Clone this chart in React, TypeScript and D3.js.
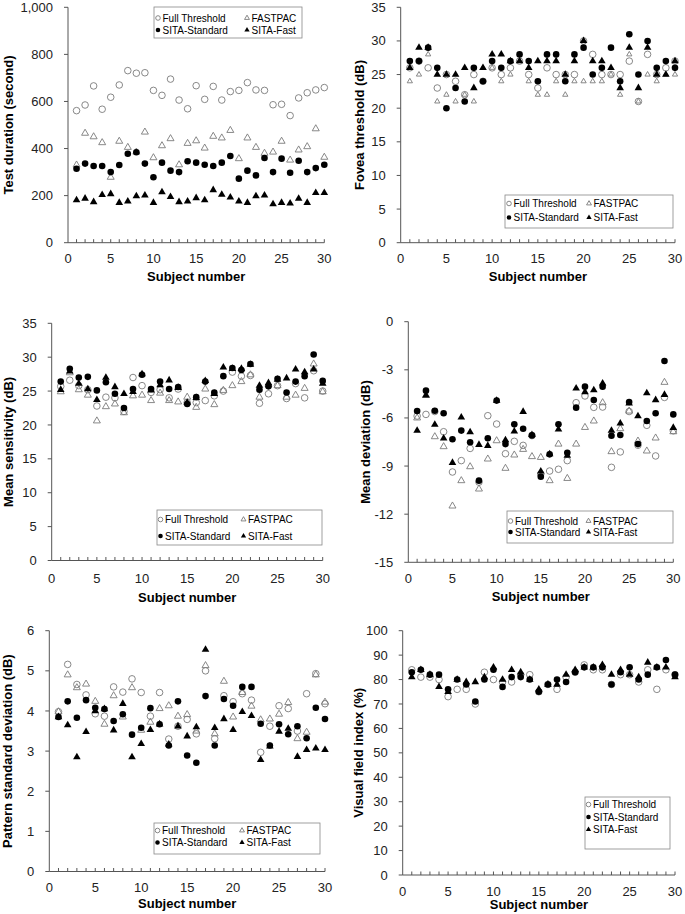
import * as d3 from 'd3';

// subjects and axis ticks
const subjects = [1, 2, 3, 4, 5, 6, 7, 8, 9, 10, 11, 12, 13, 14, 15, 16, 17, 18, 19, 20, 21, 22, 23, 24, 25, 26, 27, 28, 29, 30];
const xTickLabels = [0, 5, 10, 15, 20, 25, 30];
const durationTicks = [0, 200, 400, 600, 800, 1000];
const dbTicks = [0, 5, 10, 15, 20, 25, 30, 35];
const mdTicks = [-15, -12, -9, -6, -3, 0];
const psdTicks = [0, 1, 2, 3, 4, 5, 6];
const vfiTicks = [0, 10, 20, 30, 40, 50, 60, 70, 80, 90, 100];

// test duration (second)
const durFT = [561, 585, 666, 567, 618, 670, 731, 720, 722, 647, 626, 695, 606, 569, 667, 609, 664, 606, 642, 647, 680, 649, 647, 586, 588, 540, 615, 637, 649, 659];
const durFP = [330, 465, 450, 425, 278, 431, 405, 385, 470, 361, 412, 442, 331, 422, 433, 402, 452, 445, 477, 357, 445, 405, 380, 385, 431, 351, 394, 408, 484, 363];
const durSS = [314, 336, 326, 326, 300, 330, 378, 384, 336, 278, 340, 306, 300, 346, 340, 331, 326, 340, 368, 272, 306, 286, 360, 300, 357, 297, 348, 300, 317, 331];
const durSF = [181, 188, 173, 203, 207, 170, 176, 198, 201, 170, 215, 195, 173, 176, 190, 181, 224, 204, 193, 176, 170, 198, 201, 164, 170, 167, 187, 170, 212, 212];

// fovea threshold (dB)
const fovFT = [26, 27, 26, 23, 25, 24, 22, 25, 24, 26, 25, 26, 27, 25, 23, 26, 25, 25, 25, 30, 28, 25, 25, 25, 27, 21, 28, 25, 26, 27];
const fovFP = [24, 25, 28, 21, 22, 21, 22, 21, 26, 26, 24, 25, 27, 24, 22, 22, 24, 22, 24, 24, 24, 24, 25, 22, 28, 21, 25, 24, 25, 25];
const fovSS = [27, 27, 29, 26, 20, 23, 21, 26, 24, 27, 26, 27, 28, 27, 24, 28, 28, 24, 28, 29, 25, 26, 29, 24, 31, 25, 30, 26, 27, 26];
const fovSF = [26, 29, 29, 25, 25, 25, 26, 23, 26, 28, 28, 27, 27, 26, 27, 27, 27, 25, 27, 30, 27, 27, 26, 23, 29, 23, 29, 25, 25, 27];

// mean sensitivity (dB)
const msFT = [25.7, 26.6, 25.8, 25.2, 22.8, 24.1, 24.0, 22.0, 27.0, 25.8, 24.8, 25.2, 24.0, 25.3, 23.3, 23.3, 23.6, 24.3, 25.0, 27.8, 27.2, 27.3, 23.2, 24.6, 25.8, 23.9, 26.1, 24.0, 28.0, 25.0];
const msFP = [24.9, 27.7, 25.2, 24.4, 20.6, 22.7, 23.1, 21.8, 24.3, 24.4, 23.6, 24.7, 23.6, 23.4, 24.1, 22.6, 25.3, 23.0, 25.1, 25.8, 26.4, 27.4, 24.1, 25.9, 25.8, 24.1, 24.4, 25.4, 29.0, 24.9];
const msSS = [26.4, 28.3, 27.0, 27.1, 25.1, 26.3, 24.6, 22.5, 25.3, 27.4, 25.3, 26.4, 25.3, 25.6, 23.1, 24.1, 26.4, 24.8, 27.2, 28.4, 28.1, 29.0, 25.2, 25.7, 26.8, 24.8, 26.4, 27.2, 30.4, 26.5];
const msSF = [25.2, 27.9, 26.1, 25.3, 23.7, 27.0, 25.6, 24.6, 24.9, 27.5, 25.1, 25.9, 26.6, 25.5, 23.3, 24.0, 26.5, 24.6, 28.5, 28.3, 28.3, 28.9, 25.8, 26.2, 26.7, 26.9, 28.2, 27.8, 28.2, 26.1];

// mean deviation (dB)
const mdFT = [-5.88, -5.78, -5.6, -6.86, -9.37, -8.66, -7.9, -10.0, -5.86, -6.38, -8.23, -7.46, -7.71, -7.1, -9.5, -9.31, -9.2, -8.66, -5.05, -4.63, -5.34, -5.32, -9.08, -8.12, -5.6, -7.7, -6.46, -8.37, -4.72, -6.8];
const mdFP = [-6.0, -4.6, -7.17, -7.79, -11.49, -9.91, -9.04, -10.43, -8.56, -7.42, -9.14, -8.31, -7.96, -8.41, -8.46, -9.91, -7.63, -9.77, -7.63, -6.59, -6.19, -5.05, -8.1, -6.67, -5.57, -7.44, -8.06, -7.25, -3.78, -6.86];
const mdSS = [-5.57, -4.3, -5.55, -5.71, -7.33, -6.79, -7.52, -9.91, -7.27, -4.92, -7.63, -6.4, -6.67, -7.09, -9.66, -8.27, -6.4, -8.17, -5.36, -4.05, -4.88, -4.05, -7.11, -7.06, -5.01, -7.63, -6.19, -5.71, -2.45, -5.78];
const mdSF = [-6.79, -4.59, -6.42, -7.27, -8.79, -5.96, -6.88, -7.67, -7.73, -4.92, -7.38, -6.84, -5.61, -7.05, -9.33, -8.25, -6.71, -8.35, -4.16, -4.38, -4.26, -3.84, -6.79, -6.34, -5.09, -5.88, -4.45, -4.88, -4.55, -6.61];

// pattern standard deviation (dB)
const psdFT = [3.98, 5.16, 4.66, 4.4, 3.93, 3.87, 4.6, 4.47, 4.8, 4.46, 3.87, 4.46, 3.3, 3.62, 3.79, 3.43, 5.0, 3.31, 4.38, 4.23, 4.43, 4.27, 2.97, 3.62, 4.13, 4.06, 3.5, 4.43, 4.93, 4.18];
const psdFP = [3.98, 4.9, 4.58, 4.67, 4.24, 3.67, 4.38, 3.85, 4.58, 3.52, 3.72, 4.06, 4.13, 3.87, 3.91, 3.5, 5.13, 3.43, 4.74, 3.85, 4.46, 4.12, 3.78, 3.8, 3.92, 4.21, 3.31, 3.47, 4.9, 4.22];
const psdSS = [3.85, 4.24, 3.83, 4.27, 4.08, 4.05, 3.75, 3.92, 3.41, 3.58, 4.07, 3.67, 3.14, 4.24, 2.89, 2.71, 4.37, 3.14, 4.3, 4.13, 4.6, 4.6, 3.68, 3.14, 3.67, 3.42, 3.62, 3.32, 4.08, 3.8];
const psdSF = [3.85, 3.65, 2.85, 3.48, 4.0, 4.05, 3.52, 4.18, 2.85, 3.18, 3.53, 3.67, 3.17, 3.62, 3.37, 3.6, 5.53, 3.58, 3.8, 3.53, 3.98, 3.88, 2.78, 3.12, 3.49, 3.56, 2.86, 3.03, 3.07, 3.03];

// visual field index (%)
const vfiFT = [84, 81, 81, 80, 73, 76, 76, 70, 83, 80, 79, 79, 82, 82, 75, 78, 76, 81, 83, 86, 84, 84, 78, 82, 82, 79, 84, 76, 84, 82];
const vfiSS = [83, 84, 82, 82, 76, 80, 78, 71, 80, 84, 77, 81, 81, 80, 75, 78, 80, 79, 83, 85, 85, 85, 78, 83, 85, 80, 82, 85, 88, 82];
const vfiSF = [81, 84, 82, 77, 75, 80, 79, 79, 81, 85, 80, 84, 83, 80, 76, 78, 78, 82, 84, 85, 85, 86, 82, 84, 82, 81, 87, 85, 85, 81];

const FONT = '"Liberation Sans", Arial, Helvetica, sans-serif';
const AXIS = '#555';
const GREY = '#7a7a7a';

type Kind = 'oc' | 'ot' | 'fc' | 'ft';

const markerPath = (kind: Kind, scale = 1) => {
	const tri = kind === 'ot' || kind === 'ft';
	const s = tri ? (kind === 'ft' ? 7.6 : 7) * scale : 3.3 * scale;
	const area = tri ? (s * s * Math.sqrt(3)) / 4 : Math.PI * s * s;
	return d3.symbol().type(tri ? d3.symbolTriangle : d3.symbolCircle).size(area)() ?? '';
};

const Marker = ({ kind, x, y, scale = 1 }: { kind: Kind; x: number; y: number; scale?: number }) => {
	const open = kind === 'oc' || kind === 'ot';
	return (
		<path
			d={markerPath(kind, scale)}
			transform={`translate(${x},${y})`}
			fill={open ? 'none' : '#000'}
			stroke={open ? GREY : 'none'}
			strokeWidth={0.9}
		/>
	);
};

interface Series { label: string; kind: Kind; values: number[] }
interface LegendItem { kind: Kind; label: string; col: number; row: number }
interface PanelCfg {
	left: number; right: number; top: number; bottom: number;
	domain: [number, number]; ticks: number[]; fmt: (v: number) => string;
	ylabel: string; ylabelX: number; tickDy: number; titleDy: number;
	series: Series[];
	legend: { x: number; y: number; w: number; h: number; rows: number[]; cols: number[]; items: LegendItem[] };
	openTriScale?: number;
}

const FT = 'Full Threshold', FP = 'FASTPAC', SS = 'SITA-Standard', SF = 'SITA-Fast';
const four = (a: number[], b: number[], c: number[], d: number[]): Series[] => [
	{ label: FT, kind: 'oc', values: a },
	{ label: FP, kind: 'ot', values: b },
	{ label: SS, kind: 'fc', values: c },
	{ label: SF, kind: 'ft', values: d },
];
const fourLegend: LegendItem[] = [
	{ kind: 'oc', label: FT, col: 0, row: 0 },
	{ kind: 'ot', label: FP, col: 1, row: 0 },
	{ kind: 'fc', label: SS, col: 0, row: 1 },
	{ kind: 'ft', label: SF, col: 1, row: 1 },
];
const num = (v: number) => String(v);

const panels: PanelCfg[] = [
	{
		left: 68, right: 324.3, top: 7.3, bottom: 242.7, domain: [0, 1000], ticks: durationTicks, fmt: d3.format(','),
		ylabel: 'Test duration (second)', ylabelX: 8, tickDy: 20.5, titleDy: 38,
		series: four(durFT, durFP, durSS, durSF),
		legend: { x: 154, y: 7, w: 148, h: 31, rows: [11, 23], cols: [4, 93], items: fourLegend },
	},
	{
		left: 400.7, right: 675, top: 7.3, bottom: 242.7, domain: [0, 35], ticks: dbTicks, fmt: num,
		ylabel: 'Fovea threshold (dB)', ylabelX: 359, tickDy: 20.5, titleDy: 38,
		series: four(fovFT, fovFP, fovSS, fovSF), openTriScale: 0.75,
		legend: { x: 505, y: 195, w: 168, h: 33, rows: [8.5, 22.5], cols: [4, 84], items: fourLegend },
	},
	{
		left: 51.7, right: 322.7, top: 323.3, bottom: 560.5, domain: [0, 35], ticks: dbTicks, fmt: num,
		ylabel: 'Mean sensitivity (dB)', ylabelX: 8, tickDy: 22, titleDy: 41,
		series: four(msFT, msFP, msSS, msSF),
		legend: { x: 157, y: 510, w: 165, h: 35, rows: [9.5, 26], cols: [3.5, 86.5], items: fourLegend },
	},
	{
		left: 408.3, right: 673.3, top: 321.7, bottom: 562.3, domain: [-15, 0], ticks: mdTicks, fmt: num,
		ylabel: 'Mean deviation (dB)', ylabelX: 365, tickDy: 20.5, titleDy: 39,
		series: four(mdFT, mdFP, mdSS, mdSF),
		legend: { x: 507, y: 511, w: 166, h: 32, rows: [10, 21], cols: [3.5, 81.5], items: fourLegend },
	},
	{
		left: 49.3, right: 325, top: 630.7, bottom: 871.5, domain: [0, 6], ticks: psdTicks, fmt: num,
		ylabel: 'Pattern standard deviation (dB)', ylabelX: 7, tickDy: 20.5, titleDy: 36.5,
		series: four(psdFT, psdFP, psdSS, psdSF),
		legend: { x: 154, y: 823, w: 166, h: 31, rows: [7.5, 19.5], cols: [3.5, 88], items: fourLegend },
	},
	{
		left: 402.7, right: 675, top: 630.7, bottom: 875, domain: [0, 100], ticks: vfiTicks, fmt: num,
		ylabel: 'Visual field index (%)', ylabelX: 358.5, tickDy: 20.5, titleDy: 34,
		series: [
			{ label: FT, kind: 'oc', values: vfiFT },
			{ label: SS, kind: 'fc', values: vfiSS },
			{ label: SF, kind: 'ft', values: vfiSF },
		],
		legend: {
			x: 585, y: 797, w: 85, h: 52, rows: [7.5, 20, 32.5], cols: [3.5],
			items: [
				{ kind: 'oc', label: FT, col: 0, row: 0 },
				{ kind: 'fc', label: SS, col: 0, row: 1 },
				{ kind: 'ft', label: SF, col: 0, row: 2 },
			],
		},
	},
];

const Panel = ({ p }: { p: PanelCfg }) => {
	const x = d3.scaleLinear().domain([0, 30]).range([p.left, p.right]);
	const y = d3.scaleLinear().domain(p.domain).range([p.bottom, p.top]);
	const lg = p.legend;
	return (
		<g>
			{p.ticks.map((t) => (
				<g key={`y${t}`}>
					<line x1={p.left - 4} x2={p.left} y1={y(t)} y2={y(t)} stroke={AXIS} />
					<text x={p.left - 15} y={y(t)} dy="0.35em" textAnchor="end" fontSize={13} fill="#222">
						{p.fmt(t)}
					</text>
				</g>
			))}
			{subjects.map((s) => (
				<line key={`x${s}`} x1={x(s)} x2={x(s)} y1={p.bottom} y2={p.bottom - 3.5} stroke={AXIS} />
			))}
			{xTickLabels.map((t) => (
				<text key={`xl${t}`} x={x(t)} y={p.bottom + p.tickDy} textAnchor="middle" fontSize={13} fill="#222">
					{t}
				</text>
			))}
			<line x1={p.left} x2={p.left} y1={p.top} y2={p.bottom} stroke={AXIS} />
			<line x1={p.left} x2={p.right} y1={p.bottom} y2={p.bottom} stroke={AXIS} />
			<text x={(p.left + p.right) / 2} y={p.bottom + p.titleDy} textAnchor="middle" fontSize={13} fontWeight="bold">
				Subject number
			</text>
			<text
				transform={`translate(${p.ylabelX},${(p.top + p.bottom) / 2}) rotate(-90)`}
				dy="0.35em"
				textAnchor="middle"
				fontSize={13}
				fontWeight="bold"
			>
				{p.ylabel}
			</text>
			{p.series.map((s) => (
				<g key={s.label}>
					{s.values.map((v, i) => (
						<Marker
							key={i}
							kind={s.kind}
							x={x(subjects[i])}
							y={y(v)}
							scale={s.kind === 'ot' && p.openTriScale ? p.openTriScale : 1}
						/>
					))}
				</g>
			))}
			<rect x={lg.x} y={lg.y} width={lg.w} height={lg.h} fill="#fff" stroke="#888" strokeWidth={0.8} />
			{lg.items.map((it) => (
				<g key={it.label}>
					<Marker kind={it.kind} x={lg.x + lg.cols[it.col]} y={lg.y + lg.rows[it.row]} scale={0.7} />
					<text x={lg.x + lg.cols[it.col] + 4.5} y={lg.y + lg.rows[it.row]} dy="0.35em" fontSize={10}>
						{it.label}
					</text>
				</g>
			))}
		</g>
	);
};

export default function App() {
	return (
		<div style={{ position: 'absolute', left: 0, top: 0, background: '#fff' }}>
			<svg width={685} height={914} style={{ display: 'block', fontFamily: FONT }}>
				<rect width={685} height={914} fill="#fff" />
				{panels.map((p, i) => (
					<Panel key={i} p={p} />
				))}
			</svg>
		</div>
	);
}
